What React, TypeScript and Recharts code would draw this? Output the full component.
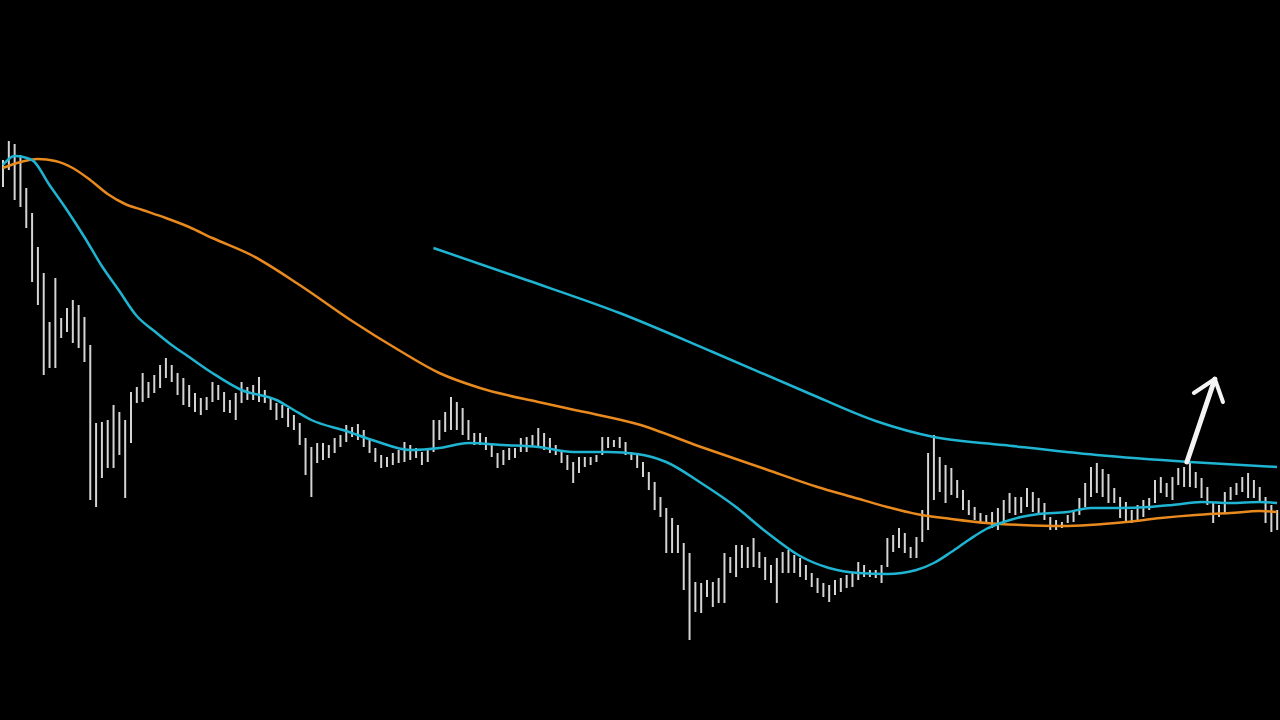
import { Bar, ComposedChart, Line, ReferenceLine, XAxis, YAxis } from "recharts"

// price bars, one per session (high / low)
const highs = [
  560, 579, 576, 565, 532, 507, 473, 447, 398, 442, 402, 412, 420, 415, 403, 375, 297, 298, 300, 315,
  308, 300, 328, 333, 347, 338, 345, 355, 362, 355, 347, 342, 335, 327, 322, 323, 338, 335, 328, 320,
  327, 338, 333, 335, 343, 330, 323, 317, 315, 312, 305, 297, 282, 273, 277, 277, 275, 282, 285, 295,
  293, 296, 290, 280, 272, 265, 263, 267, 270, 278, 275, 272, 268, 270, 300, 300, 308, 323, 318, 312,
  300, 287, 287, 283, 275, 267, 270, 272, 272, 282, 283, 285, 292, 287, 282, 275, 270, 265, 258, 263,
  263, 263, 265, 283, 283, 280, 283, 278, 268, 265, 258, 248, 238, 223, 212, 202, 195, 177, 167, 138,
  137, 140, 138, 142, 167, 163, 175, 175, 173, 182, 168, 163, 155, 162, 168, 170, 165, 162, 155, 147,
  142, 137, 135, 140, 142, 145, 148, 158, 155, 150, 150, 155, 182, 185, 192, 187, 173, 183, 210, 267,
  285, 263, 255, 252, 240, 230, 220, 213, 207, 205, 208, 212, 220, 227, 223, 223, 232, 228, 222, 217,
  203, 200, 198, 205, 210, 222, 237, 253, 257, 251, 246, 232, 223, 218, 210, 215, 220, 222, 240, 243,
  237, 243, 252, 253, 258, 248, 242, 233, 217, 215, 228, 233, 237, 243, 247, 240, 233, 223, 215, 210,
]

const lows = [
  533, 550, 520, 513, 492, 438, 415, 345, 352, 352, 382, 388, 377, 372, 358, 220, 213, 242, 252, 252,
  265, 222, 277, 317, 318, 322, 327, 332, 342, 338, 325, 315, 313, 308, 305, 310, 318, 320, 308, 307,
  300, 317, 320, 320, 318, 317, 310, 300, 302, 293, 290, 275, 245, 223, 257, 260, 262, 267, 273, 278,
  283, 280, 273, 267, 258, 252, 253, 255, 257, 258, 260, 262, 255, 258, 268, 280, 288, 290, 290, 285,
  280, 275, 275, 270, 263, 252, 255, 260, 262, 268, 268, 273, 273, 270, 267, 265, 257, 250, 237, 247,
  253, 255, 258, 265, 272, 273, 272, 265, 260, 252, 243, 230, 210, 203, 167, 167, 167, 130, 80, 108,
  107, 123, 113, 117, 117, 147, 143, 152, 152, 153, 152, 140, 137, 117, 147, 147, 147, 143, 140, 133,
  127, 123, 118, 125, 128, 132, 133, 140, 143, 143, 142, 137, 153, 168, 172, 167, 162, 162, 178, 190,
  220, 228, 217, 225, 222, 210, 205, 200, 198, 197, 192, 190, 198, 207, 205, 207, 213, 208, 207, 200,
  190, 190, 192, 197, 198, 205, 213, 223, 227, 223, 217, 217, 202, 197, 197, 198, 203, 210, 217, 227,
  223, 220, 235, 233, 233, 232, 222, 215, 197, 203, 207, 220, 225, 228, 222, 222, 217, 197, 188, 190,
]

// fast moving average (cyan), read at selected sessions
const fastIdx = [0, 2, 5, 8, 11, 14, 17, 20, 23, 26, 29, 32, 36, 41, 47, 50, 53, 59, 64, 70, 75, 80, 86, 92, 98, 104, 109, 114, 120, 126, 131, 137, 142, 147, 152, 157, 160, 163, 166, 169, 172, 175, 178, 183, 187, 192, 197, 201, 206, 211, 216, 219]
const fastVal = [555, 564, 560, 535, 510, 483, 454, 429, 404, 389, 375, 363, 347, 330, 320, 310, 300, 289, 279, 270, 272, 277, 275, 273, 268, 268, 266, 258, 237, 213, 189, 164, 152, 147, 146, 150, 157, 168, 180, 191, 198, 203, 206, 208, 212, 212, 213, 215, 218, 217, 218, 217]

// slow moving average (orange)
const slowIdx = [0, 3, 6, 9, 12, 15, 18, 21, 24, 28, 32, 36, 43, 51, 60, 68, 75, 82, 92, 100, 109, 120, 131, 140, 146, 152, 157, 163, 169, 175, 182, 193, 199, 205, 211, 216, 219]
const slowVal = [552, 558, 561, 559, 552, 540, 526, 516, 510, 502, 493, 482, 464, 435, 399, 370, 347, 332, 318, 308, 296, 273, 251, 233, 223, 213, 206, 201, 197, 195, 194, 198, 202, 205, 207, 209, 208]

// long moving average (cyan, starts later)
const longIdx = [74, 90, 106, 122, 138, 150, 160, 172, 188, 204, 219]
const longVal = [472, 440, 407, 368, 328, 299, 283, 275, 265, 258, 253]

const toMap = (idx: number[], vals: number[]) => new Map(idx.map((k, n) => [k, vals[n]]))
const fastMap = toMap(fastIdx, fastVal)
const slowMap = toMap(slowIdx, slowVal)
const longMap = toMap(longIdx, longVal)

const data = highs.map((h, i) => ({
  i,
  range: [lows[i], h],
  fast: fastMap.get(i) ?? null,
  slow: slowMap.get(i) ?? null,
  long: longMap.get(i) ?? null,
}))

const CYAN = "#1fb5d2"
const ORANGE = "#e88a1e"
const ARROW = "#f4f4f4"

export default function App() {
  return (
    <div style={{ position: "fixed", left: 0, top: 0, width: 1280, height: 720, background: "#000" }}>
      <ComposedChart width={1280} height={720} data={data} margin={{ top: 0, right: 0, bottom: 0, left: 0 }}>
        <XAxis type="number" dataKey="i" domain={[-0.5, highs.length - 0.5]} hide />
        <YAxis type="number" domain={[0, 720]} hide allowDataOverflow />
        <Bar dataKey="range" fill="#d4d4d4" barSize={2} isAnimationActive={false} />
        <Line type="monotone" dataKey="slow" stroke={ORANGE} strokeWidth={2.5} dot={false} activeDot={false} connectNulls isAnimationActive={false} />
        <Line type="monotone" dataKey="fast" stroke={CYAN} strokeWidth={2.5} dot={false} activeDot={false} connectNulls isAnimationActive={false} />
        <Line type="monotone" dataKey="long" stroke={CYAN} strokeWidth={2.5} dot={false} activeDot={false} connectNulls isAnimationActive={false} />
        <ReferenceLine segment={[{ x: 203.5, y: 258 }, { x: 208.3, y: 341 }]} stroke={ARROW} strokeWidth={5} strokeLinecap="round" />
        <ReferenceLine segment={[{ x: 208.3, y: 341 }, { x: 204.7, y: 327 }]} stroke={ARROW} strokeWidth={4} strokeLinecap="round" />
        <ReferenceLine segment={[{ x: 208.3, y: 341 }, { x: 209.7, y: 318 }]} stroke={ARROW} strokeWidth={4} strokeLinecap="round" />
      </ComposedChart>
    </div>
  )
}
